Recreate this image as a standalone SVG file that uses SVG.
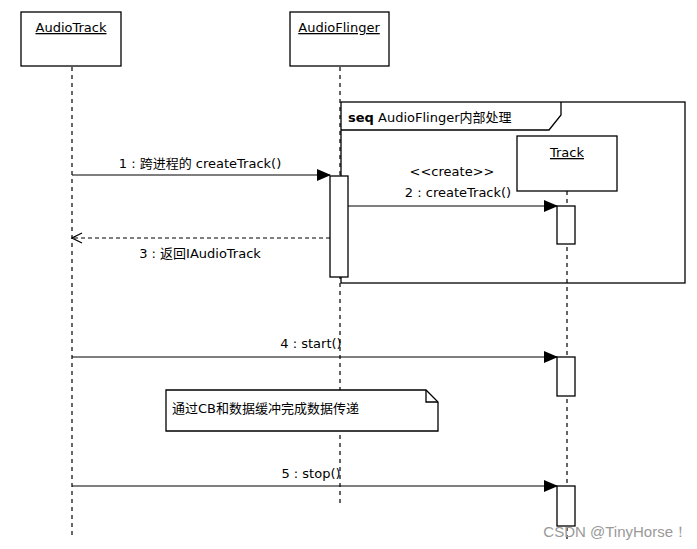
<svg xmlns="http://www.w3.org/2000/svg" width="697" height="549" viewBox="0 0 697 549">
<style>
.box{fill:#fff;stroke:#000;stroke-width:1.3}
.life{stroke:#000;stroke-width:1.2;stroke-dasharray:4,4;fill:none}
.msg{stroke:#000;stroke-width:1.2;fill:none}
.t{font-family:"DejaVu Sans","Noto Sans CJK SC",sans-serif;font-size:13px;fill:#000}
.name{font-family:"DejaVu Sans",sans-serif;font-size:13px;text-decoration:underline;text-anchor:middle}
</style>
<defs>
<marker id="fa" markerWidth="14" markerHeight="12" refX="13" refY="6" orient="auto" markerUnits="userSpaceOnUse"><path d="M0,0 L14,6 L0,12 Z" fill="#000"/></marker>
<marker id="oa" markerWidth="12" markerHeight="12" refX="11" refY="6" orient="auto" markerUnits="userSpaceOnUse"><path d="M1,1 L11,6 L1,11" fill="none" stroke="#000" stroke-width="1.2"/></marker>
</defs>
<rect width="697" height="549" fill="#fff"/>
<g id="connectors">
<line class="life" x1="72" y1="67" x2="72" y2="538"/>
<line class="life" x1="340" y1="67" x2="340" y2="503"/>
<line class="life" x1="567" y1="191" x2="567" y2="542"/>
<line class="msg" x1="72" y1="175" x2="330" y2="175" marker-end="url(#fa)"/>
<text class="t" x="200" y="168" text-anchor="middle">1 : 跨进程的 createTrack()</text>
<line class="msg" x1="348" y1="206" x2="557" y2="206" marker-end="url(#fa)"/>
<text class="t" x="452" y="176" text-anchor="middle">&lt;&lt;create&gt;&gt;</text>
<text class="t" x="458" y="197" text-anchor="middle">2 : createTrack()</text>
<line class="msg" x1="330" y1="238" x2="72" y2="238" stroke-dasharray="4,3" marker-end="url(#oa)"/>
<text class="t" x="200" y="258" text-anchor="middle">3 : 返回IAudioTrack</text>
<line class="msg" x1="72" y1="357" x2="557" y2="357" marker-end="url(#fa)"/>
<text class="t" x="311" y="348" text-anchor="middle">4 : start()</text>
<line class="msg" x1="72" y1="486" x2="557" y2="486" marker-end="url(#fa)"/>
<text class="t" x="311" y="478" text-anchor="middle">5 : stop()</text>
</g>
<g id="frame">
<rect x="341" y="102" width="344" height="181" fill="none" stroke="#000" stroke-width="1.3"/>
<path d="M341,130 L549,130 L561,115 L561,102" fill="none" stroke="#000" stroke-width="1.3"/>
<text class="t" x="348" y="122"><tspan font-weight="bold">seq</tspan> AudioFlinger内部处理</text>
</g>
<g id="AudioTrack"><rect class="box" x="21" y="12" width="100" height="54"/><text class="name" x="71" y="32">AudioTrack</text></g>
<g id="AudioFlinger"><rect class="box" x="290" y="12" width="99" height="54"/><text class="name" x="339" y="32">AudioFlinger</text></g>
<g id="Track"><rect class="box" x="517" y="136" width="100" height="55"/><text class="name" x="567" y="157">Track</text></g>
<g id="activations">
<rect class="box" x="330" y="176" width="18" height="101"/>
<rect class="box" x="557" y="206" width="18" height="38"/>
<rect class="box" x="557" y="357" width="18" height="39"/>
<rect class="box" x="557" y="486" width="18" height="40"/>
</g>
<g id="note">
<path d="M166,390 L426,390 L438,402 L438,431 L166,431 Z" fill="#fff" stroke="#000" stroke-width="1.3"/>
<path d="M426,390 L426,402 L438,402" fill="none" stroke="#000" stroke-width="1.3"/>
<text class="t" x="172" y="413">通过CB和数据缓冲完成数据传递</text>
</g>
<text x="688" y="537" text-anchor="end" font-family="Liberation Sans,sans-serif" font-size="15" fill="#999">CSDN @TinyHorse！</text>
</svg>
